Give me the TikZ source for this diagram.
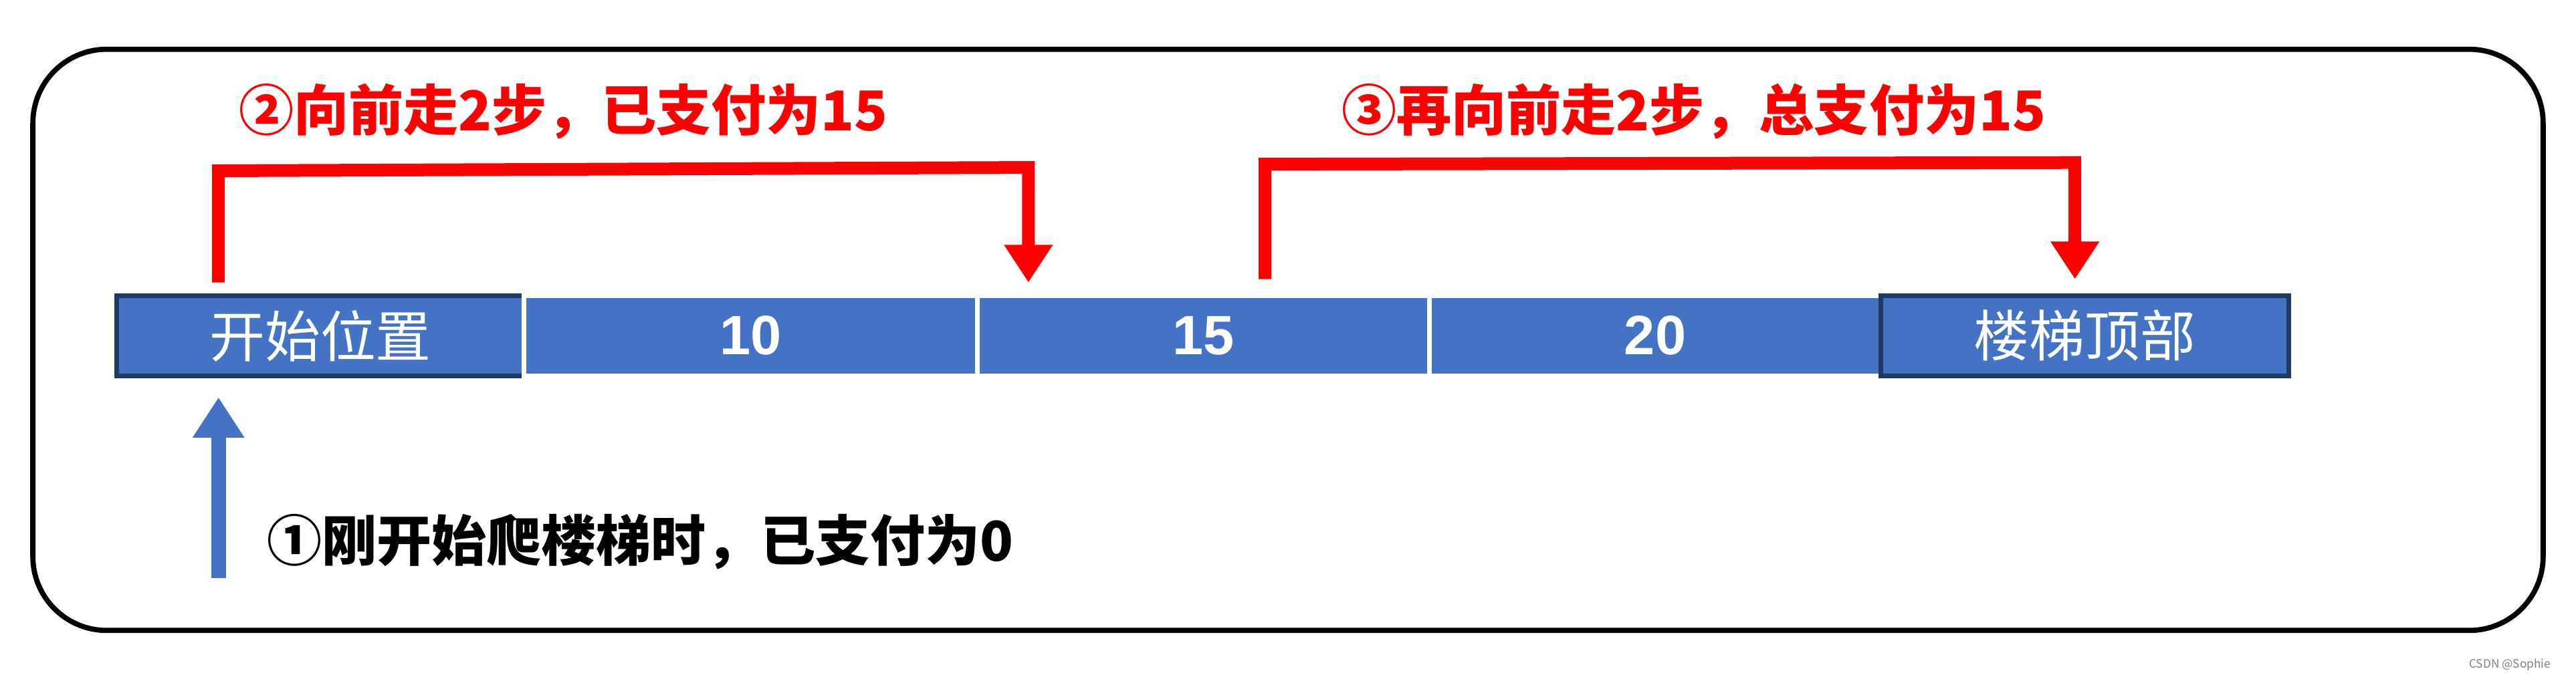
\documentclass[tikz,border=0pt]{standalone}
\usepackage{fontspec}
\setmainfont{Noto Sans CJK SC}
\newfontfamily\latin{Liberation Sans}
\usetikzlibrary{arrows.meta}
\definecolor{boxblue}{HTML}{4472C4}
\definecolor{navy}{HTML}{1F3864}
\begin{document}
\begin{tikzpicture}[x=0.01cm,y=-0.01cm,
  cell/.style={fill=boxblue,draw=white,line width=0.8pt,minimum height=49*0.01cm,inner sep=0,text=white,font=\fontsize{9.6}{10}\selectfont},
  redarr/.style={red,line width=2.2pt,-{Triangle[length=6.5pt,width=8pt]}},
  lbl/.style={red,font=\fontsize{9.5}{10}\selectfont\bfseries}]
\useasboundingbox (0,0) rectangle (1568,412);
\draw[line width=0.9pt,rounded corners=45*0.01cm] (20,30) rectangle (1548,384);
\node[cell,draw=navy,minimum width=248*0.01cm] (s) at (195,204.5) {开始位置};
\node[cell,minimum width=276*0.01cm] (a) at (457,204.5) {\latin\bfseries 10};
\node[cell,minimum width=275*0.01cm] (b) at (732.5,204.5) {\latin\bfseries 15};
\node[cell,minimum width=275*0.01cm] (c) at (1007.5,204.5) {\latin\bfseries 20};
\node[cell,draw=navy,minimum width=248*0.01cm] (t) at (1269,204.5) {楼梯顶部};
\coordinate (p1) at (133,172); \coordinate (p2) at (626,172);
\coordinate (q1) at (770,170); \coordinate (q2) at (1263,170);
\draw[redarr] (p1) -- (133,104) -- (626,102) -- (p2);
\draw[redarr] (q1) -- (770,100) -- (1263,99) -- (q2);
\node[lbl] (l2) at (343,68) {②向前走2步，已支付为15};
\node[lbl] (l3) at (1031,68) {③再向前走2步，总支付为15};
\coordinate (b1) at (133,352);
\draw[boxblue,line width=2.5pt,-{Triangle[length=7pt,width=8.5pt]}] (b1) -- (133,242);
\node[anchor=west,font=\fontsize{9.5}{10}\selectfont\bfseries] (l1) at (150,330) {①刚开始爬楼梯时，已支付为0};
\node[anchor=east,font=\fontsize{2}{2}\selectfont,text=gray] (w) at (1565,405) {CSDN @Sophie};
\end{tikzpicture}
\end{document}
